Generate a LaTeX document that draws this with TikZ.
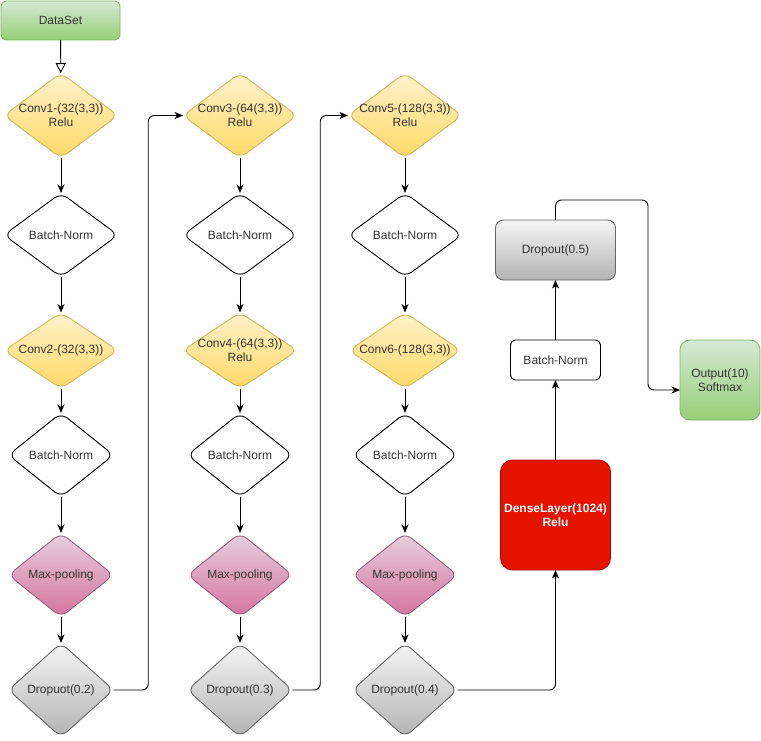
\documentclass[tikz,border=0pt]{standalone}
\usepackage{fontspec}
\setmainfont{Liberation Sans}
\usetikzlibrary{shapes.geometric,arrows.meta,calc}
\definecolor{yelT}{HTML}{FFF2CC}
\definecolor{yelB}{HTML}{FFD966}
\definecolor{yelD}{HTML}{D6B656}
\definecolor{grnT}{HTML}{D5E8D4}
\definecolor{grnB}{HTML}{97D077}
\definecolor{grnD}{HTML}{82B366}
\definecolor{pnkT}{HTML}{E6D0DE}
\definecolor{pnkB}{HTML}{D5739D}
\definecolor{pnkD}{HTML}{996185}
\definecolor{gryT}{HTML}{F5F5F5}
\definecolor{gryB}{HTML}{B3B3B3}
\definecolor{gryD}{HTML}{666666}
\definecolor{redF}{HTML}{E51400}
\definecolor{redD}{HTML}{B20000}
\definecolor{txtG}{HTML}{333333}
\begin{document}
\begin{tikzpicture}[x=1pt,y=-1pt,
  font=\fontsize{12}{14}\selectfont,
  base/.style={draw, line width=0.9pt, inner sep=0pt, outer sep=0pt},
  dia/.style={base, diamond, rounded corners=8pt},
  yel/.style={draw=yelD, top color=yelT, bottom color=yelB},
  grn/.style={draw=grnD, top color=grnT, bottom color=grnB},
  pnk/.style={draw=pnkD, top color=pnkT, bottom color=pnkB},
  gry/.style={draw=gryD, top color=gryT, bottom color=gryB, text=txtG},
  wht/.style={draw=black, fill=white},
  lbl/.style={align=center, inner sep=0pt, text=txtG},
  arr/.style={draw, line width=0.9pt, -{Stealth[length=8.5pt,width=7pt,inset=2.5pt]}},
  openarr/.style={draw, line width=0.9pt, -{Triangle[open,length=10pt,width=10pt,fill=white]}}
]
\path[use as bounding box] (0,0) rectangle (761,741);

% ---------- column 1 ----------
\node[base, grn, rectangle, rounded corners=5pt, minimum width=119pt, minimum height=39pt, align=center, text=txtG] (ds) at (60.5,20.5) {DataSet};
\node[dia, yel, minimum width=114pt, minimum height=85pt, label={[lbl]center:Conv1-(32(3,3))\\Relu}] (c1) at (61,115.5) {};
\node[dia, wht, minimum width=114pt, minimum height=84pt, label={[lbl]center:Batch-Norm}] (bn1) at (61,235) {};
\node[dia, yel, minimum width=114pt, minimum height=76pt, label={[lbl]center:Conv2-(32(3,3))}] (c2) at (61,350.5) {};
\node[dia, wht, minimum width=105pt, minimum height=84pt, label={[lbl]center:Batch-Norm}] (bn2) at (61,455) {};
\node[dia, pnk, minimum width=105pt, minimum height=84pt, label={[lbl]center:Max-pooling}] (mp1) at (61,575) {};
\node[dia, gry, minimum width=105pt, minimum height=94pt, label={[lbl]center:Dropuot(0.2)}] (dp1) at (61,690) {};

% ---------- column 2 ----------
\node[dia, yel, minimum width=114pt, minimum height=85pt, label={[lbl]center:Conv3-(64(3,3))\\Relu}] (c3) at (240,115.5) {};
\node[dia, wht, minimum width=114pt, minimum height=84pt, label={[lbl]center:Batch-Norm}] (bn3) at (240,235) {};
\node[dia, yel, minimum width=115pt, minimum height=76pt, label={[lbl]center:Conv4-(64(3,3))\\Relu}] (c4) at (240,350.5) {};
\node[dia, wht, minimum width=105pt, minimum height=84pt, label={[lbl]center:Batch-Norm}] (bn4) at (240,455) {};
\node[dia, pnk, minimum width=105pt, minimum height=84pt, label={[lbl]center:Max-pooling}] (mp2) at (240,575) {};
\node[dia, gry, minimum width=105pt, minimum height=94pt, label={[lbl]center:Dropout(0.3)}] (dp2) at (240,690) {};

% ---------- column 3 ----------
\node[dia, yel, minimum width=114pt, minimum height=85pt, label={[lbl]center:Conv5-(128(3,3))\\Relu}] (c5) at (405,115.5) {};
\node[dia, wht, minimum width=114pt, minimum height=84pt, label={[lbl]center:Batch-Norm}] (bn5) at (405,235) {};
\node[dia, yel, minimum width=112pt, minimum height=76pt, label={[lbl]center:Conv6-(128(3,3))}] (c6) at (405,350.5) {};
\node[dia, wht, minimum width=105pt, minimum height=84pt, label={[lbl]center:Batch-Norm}] (bn6) at (405,455) {};
\node[dia, pnk, minimum width=105pt, minimum height=84pt, label={[lbl]center:Max-pooling}] (mp3) at (405,575) {};
\node[dia, gry, minimum width=105pt, minimum height=94pt, label={[lbl]center:Dropout(0.4)}] (dp3) at (405,690) {};

% ---------- dense part ----------
\node[base, rectangle, rounded corners=12pt, draw=redD, fill=redF, text=white, font=\fontsize{12}{14}\selectfont\bfseries, align=center, minimum width=110pt, minimum height=110pt] (dense) at (555.5,515) {DenseLayer(1024)\\Relu};
\node[base, rectangle, rounded corners=5pt, fill=white, text=txtG, minimum width=90pt, minimum height=40pt] (bn7) at (555.5,360) {Batch-Norm};
\node[base, gry, rectangle, rounded corners=8pt, minimum width=120pt, minimum height=60pt] (dp4) at (555.5,250) {Dropout(0.5)};
\node[base, grn, rectangle, rounded corners=10pt, minimum width=80pt, minimum height=80pt, align=center, text=txtG] (out) at (720,380) {Output(10)\\Softmax};

\coordinate (k1) at (648,200);
\coordinate (outin) at ($(out.west)+(0,10)$);

% ---------- connectors ----------
\draw[openarr] (ds) -- (c1);
\draw[arr] (c1) -- (bn1);
\draw[arr] (bn1) -- (c2);
\draw[arr] (c2) -- (bn2);
\draw[arr] (bn2) -- (mp1);
\draw[arr] (mp1) -- (dp1);
\draw[arr, rounded corners=6pt] (dp1.east) -| ($(dp1.east)!0.5!(c3.west)$) |- (c3.west);
\draw[arr] (c3) -- (bn3);
\draw[arr] (bn3) -- (c4);
\draw[arr] (c4) -- (bn4);
\draw[arr] (bn4) -- (mp2);
\draw[arr] (mp2) -- (dp2);
\draw[arr, rounded corners=6pt] (dp2.east) -| ($(dp2.east)!0.5!(c5.west)$) |- (c5.west);
\draw[arr] (c5) -- (bn5);
\draw[arr] (bn5) -- (c6);
\draw[arr] (c6) -- (bn6);
\draw[arr] (bn6) -- (mp3);
\draw[arr] (mp3) -- (dp3);
\draw[arr, rounded corners=6pt] (dp3.east) -| (dense.south);
\draw[arr] (dense) -- (bn7);
\draw[arr] (bn7) -- (dp4);
\draw[arr, rounded corners=6pt] (dp4.north) |- (k1) |- (outin);
\end{tikzpicture}
\end{document}
